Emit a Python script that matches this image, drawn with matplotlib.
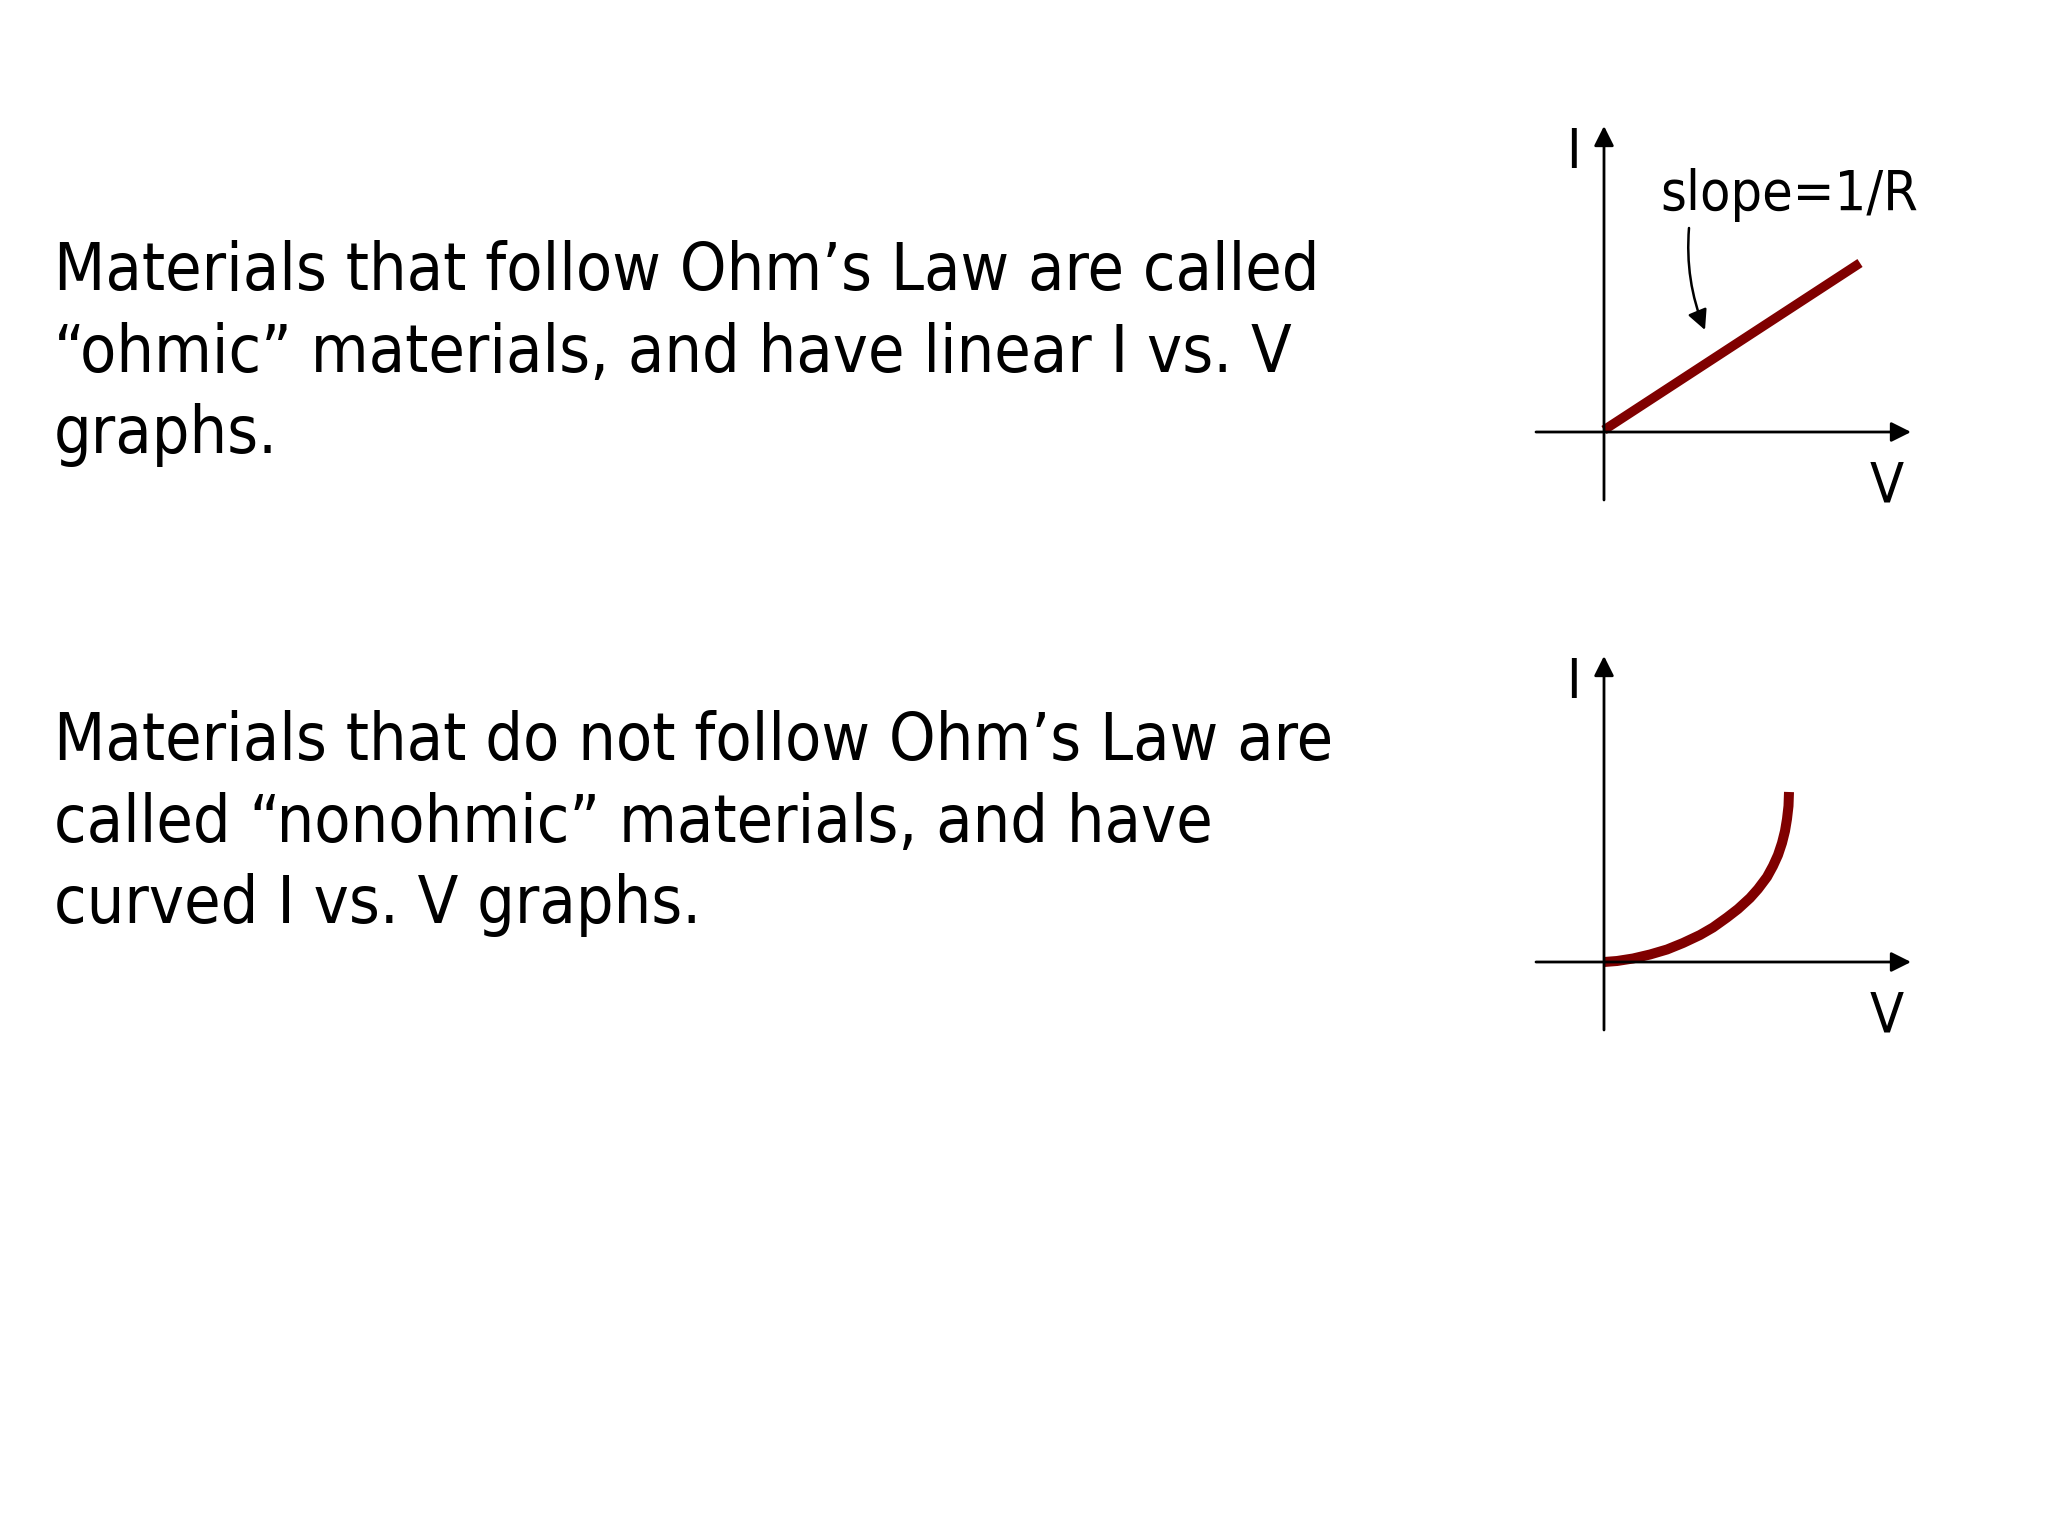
import matplotlib
matplotlib.use("Agg")
import matplotlib.pyplot as plt

plt.rcParams["font.family"] = ["DejaVu Sans"]

# slide text, one entry per line
ohmic_lines = [
    "Materials that follow Ohm\u2019s Law are called",
    "\u201cohmic\u201d materials, and have linear I vs. V",
    "graphs.",
]
nonohmic_lines = [
    "Materials that do not follow Ohm\u2019s Law are",
    "called \u201cnonohmic\u201d materials, and have",
    "curved I vs. V graphs.",
]

# ohmic: straight line through the origin
ohmic_V = [0.0, 2.56]
ohmic_I = [0.02, 1.69]

# nonohmic: curve
nonohmic_V = [0.00, 0.13, 0.29, 0.46, 0.63, 0.79, 0.96, 1.09, 1.23, 1.34,
              1.46, 1.54, 1.63, 1.69, 1.74, 1.78, 1.81, 1.83, 1.845, 1.85]
nonohmic_I = [0.00, 0.01, 0.035, 0.075, 0.125, 0.19, 0.27, 0.345, 0.445, 0.53,
              0.64, 0.73, 0.85, 0.96, 1.07, 1.19, 1.31, 1.43, 1.56, 1.70]

slope_label = "slope=1/R"

W, H = 2048, 1536
fig = plt.figure(figsize=(10.24, 7.68), dpi=200)
fig.patch.set_facecolor("white")


def px(x, y):
    return x / W, 1 - y / H


text_size = 23.8
for lines, baselines in [(ohmic_lines, [290, 372, 453]),
                         (nonohmic_lines, [760, 842, 923])]:
    for line, yb in zip(lines, baselines):
        fx, fy = px(54, yb)
        fig.text(fx, fy, line, fontsize=text_size, va="baseline", ha="left",
                 color="black", fontstretch="condensed")

red = "#800000"
label_size = 20


def make_graph(top):
    # 100 pixels per data unit, origin 342 px below the axes top
    left, right, bottom = 1500, 2000, top + 450
    ax = fig.add_axes([left / W, 1 - bottom / H, (right - left) / W, 450 / H])
    ax.set_xlim(-1.04, 3.96)
    ax.set_ylim(-1.08, 3.42)
    ax.axis("off")
    arrow = dict(arrowstyle="-|>", lw=1.0, color="black",
                 mutation_scale=15, shrinkA=0, shrinkB=0)
    ax.annotate("", xy=(3.07, 0), xytext=(-0.68, 0), arrowprops=arrow)
    ax.annotate("", xy=(0, 3.06), xytext=(0, -0.68), arrowprops=arrow)
    ax.text(-0.31, 2.635, "I", fontsize=label_size, ha="center", va="baseline",
            fontstretch="condensed")
    ax.text(2.83, -0.70, "V", fontsize=label_size, ha="center", va="baseline",
            fontstretch="condensed")
    return ax


ax1 = make_graph(90)
ax1.plot(ohmic_V, ohmic_I, color=red, lw=3.4, solid_capstyle="butt")
ax1.text(0.56, 2.22, slope_label, fontsize=label_size, ha="left", va="baseline",
         fontstretch="condensed")
ax1.annotate("", xy=(1.01, 1.02), xytext=(0.85, 2.04),
             arrowprops=dict(arrowstyle="-|>", lw=0.9, color="black",
                             mutation_scale=15, shrinkA=0, shrinkB=0,
                             connectionstyle="arc3,rad=0.12"))

ax2 = make_graph(620)
ax2.plot(nonohmic_V, nonohmic_I, color=red, lw=3.6, solid_capstyle="butt",
         solid_joinstyle="round")

fig.savefig("out.png", dpi=200, facecolor="white")
